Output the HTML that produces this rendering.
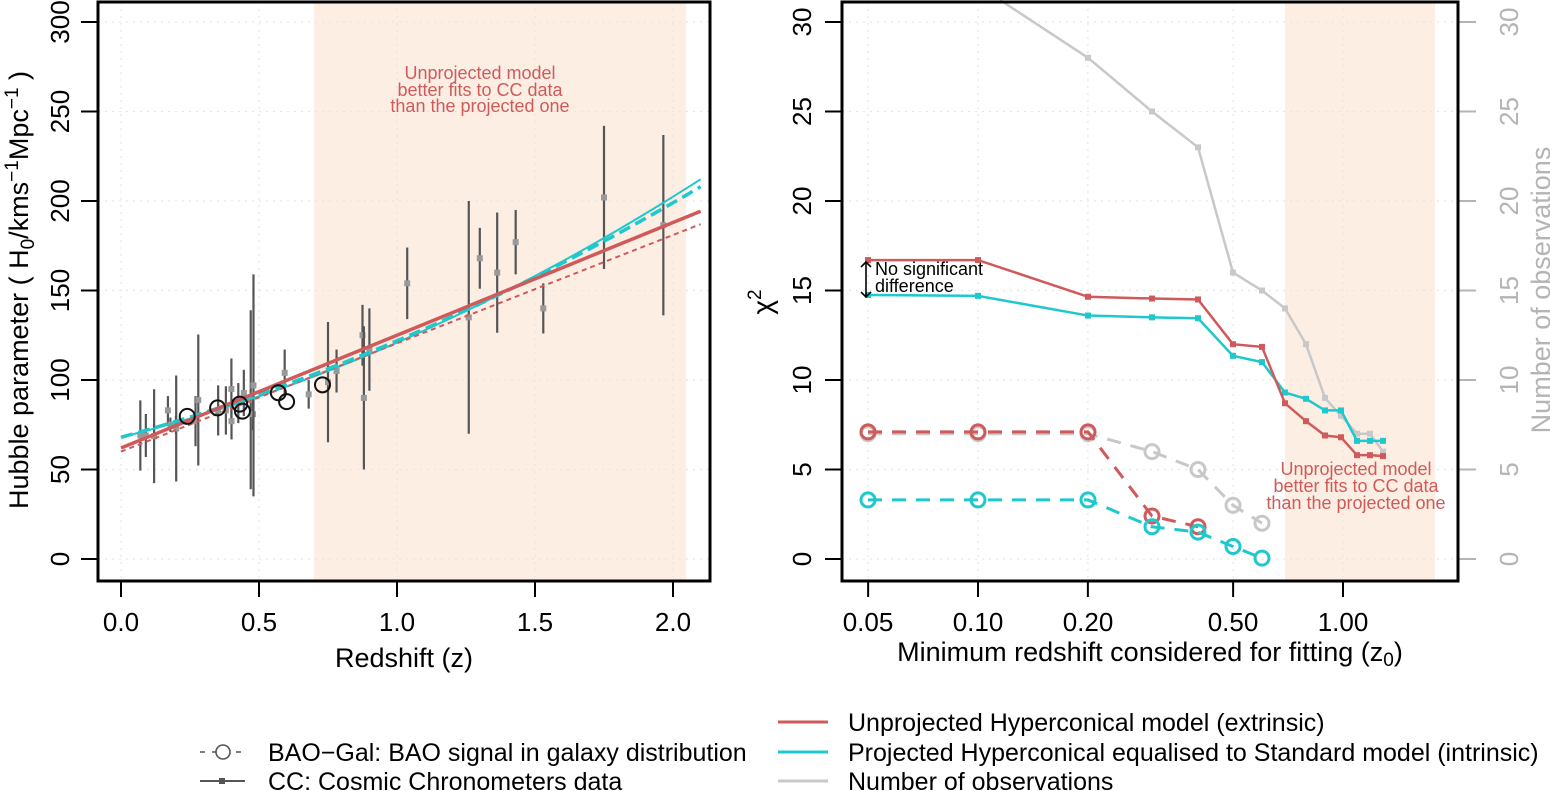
<!DOCTYPE html>
<html><head><meta charset="utf-8"><style>
html,body{margin:0;padding:0;background:#fff;}
svg{display:block;font-family:"Liberation Sans",sans-serif;}
</style></head><body>
<svg id="s" width="1550" height="791" viewBox="0 0 1550 791" xmlns="http://www.w3.org/2000/svg">
<rect x="314" y="2" width="372" height="579" fill="#fdeee4"/>
<rect x="1285" y="2" width="150" height="579" fill="#fdeee4"/>
<g id="grid" stroke="#e6e6e6" stroke-width="1.2" stroke-dasharray="2,5"></g>
<g id="plot"></g>
<rect x="98" y="2" width="612" height="579" fill="none" stroke="#000" stroke-width="3"/>
<g font-size="26" fill="#000" text-anchor="middle">
<text x="121" y="631">0.0</text><text x="259" y="631">0.5</text><text x="397" y="631">1.0</text><text x="535" y="631">1.5</text><text x="673" y="631">2.0</text>
<text x="404" y="667" font-size="27">Redshift (z)</text>
</g>
<g font-size="26" text-anchor="middle">
<text transform="translate(69,559) rotate(-90)">0</text>
<text transform="translate(69,469.5) rotate(-90)">50</text>
<text transform="translate(69,380) rotate(-90)">100</text>
<text transform="translate(69,290.5) rotate(-90)">150</text>
<text transform="translate(69,201) rotate(-90)">200</text>
<text transform="translate(69,111.5) rotate(-90)">250</text>
<text transform="translate(69,22) rotate(-90)">300</text>
<text transform="translate(28,290) rotate(-90)" font-size="27">Hubble parameter ( H<tspan font-size="19" dy="6">0</tspan><tspan dy="-6">/kms</tspan><tspan font-size="19" dy="-10">−1</tspan><tspan dy="10">Mpc</tspan><tspan font-size="19" dy="-10">−1</tspan><tspan dy="10"> )</tspan></text>
</g>
<g font-size="18" fill="#d05a5a" text-anchor="middle">
<text x="480" y="79">Unprojected model</text><text x="480" y="96">better fits to CC data</text><text x="480" y="112">than the projected one</text>
</g>
<rect x="842" y="2" width="616" height="579" fill="none" stroke="#000" stroke-width="3"/>
<g font-size="26" text-anchor="middle">
<text x="868" y="631">0.05</text><text x="978" y="631">0.10</text><text x="1088" y="631">0.20</text><text x="1233" y="631">0.50</text><text x="1343" y="631">1.00</text>
<text x="1150" y="661" font-size="27">Minimum redshift considered for fitting (z<tspan font-size="19" dy="5">0</tspan><tspan dy="-5">)</tspan></text>
<text transform="translate(811,559) rotate(-90)">0</text>
<text transform="translate(811,469.5) rotate(-90)">5</text>
<text transform="translate(811,380) rotate(-90)">10</text>
<text transform="translate(811,290.5) rotate(-90)">15</text>
<text transform="translate(811,201) rotate(-90)">20</text>
<text transform="translate(811,111.5) rotate(-90)">25</text>
<text transform="translate(811,22) rotate(-90)">30</text>
<text transform="translate(772,302) rotate(-90)" font-size="28">χ<tspan font-size="19" dy="-11">2</tspan></text>
</g>
<g font-size="26" text-anchor="middle" fill="#b4b4b4">
<text transform="translate(1518,559) rotate(-90)">0</text>
<text transform="translate(1518,469.5) rotate(-90)">5</text>
<text transform="translate(1518,380) rotate(-90)">10</text>
<text transform="translate(1518,290.5) rotate(-90)">15</text>
<text transform="translate(1518,201) rotate(-90)">20</text>
<text transform="translate(1518,111.5) rotate(-90)">25</text>
<text transform="translate(1518,22) rotate(-90)">30</text>
<text transform="translate(1550,290) rotate(-90)" font-size="27">Number of observations</text>
</g>
<g font-size="18" fill="#d05a5a" text-anchor="middle">
<text x="1356" y="475">Unprojected model</text><text x="1356" y="492">better fits to CC data</text><text x="1356" y="509">than the projected one</text>
</g>
<g font-size="18" fill="#000"><text x="875" y="275">No significant</text><text x="875" y="292">difference</text></g>
<path d="M866 262 L866 297 M861 267 L866 262 L871 267 M861 292 L866 297 L871 292" stroke="#000" stroke-width="1.6" fill="none"/>
<g font-size="25" fill="#000">
<text x="268" y="761">BAO−Gal: BAO signal in galaxy distribution</text>
<text x="268" y="790">CC: Cosmic Chronometers data</text>
<text x="848" y="731">Unprojected Hyperconical model (extrinsic)</text>
<text x="848" y="761">Projected Hyperconical equalised to Standard model (intrinsic)</text>
<text x="848" y="790">Number of observations</text>
</g>
<g stroke-width="3">
<line x1="200" y1="752" x2="245" y2="752" stroke="#555" stroke-width="1.6" stroke-dasharray="5,7"/>
<circle cx="223" cy="752" r="7" fill="#fff" stroke="#555" stroke-width="1.6"/>
<line x1="200" y1="781" x2="245" y2="781" stroke="#555" stroke-width="2"/>
<rect x="219" y="778" width="6" height="6" fill="#555"/>
<line x1="778" y1="722" x2="828" y2="722" stroke="#d05a5a"/>
<line x1="778" y1="752" x2="828" y2="752" stroke="#1ec8cc"/>
<line x1="778" y1="781" x2="828" y2="781" stroke="#c8c8c8"/>
</g>
</svg>
<script>
var NS="http://www.w3.org/2000/svg";
function el(p,t,a){var e=document.createElementNS(NS,t);for(var k in a)e.setAttribute(k,a[k]);document.getElementById(p).appendChild(e);return e;}
function Y(v){return 559-v*1.79;}
function LX(z){return 121+z*276;}
function RX(z){return 978+365*Math.log10(z/0.1);}
function RY(v){return 559-v*17.9;}
[0,.5,1,1.5,2].forEach(function(z){el("grid","line",{x1:LX(z),x2:LX(z),y1:2,y2:581});});
[0,50,100,150,200,250,300].forEach(function(v){el("grid","line",{x1:98,x2:710,y1:Y(v),y2:Y(v)});
 el("plot","line",{x1:81,x2:98,y1:Y(v),y2:Y(v),stroke:"#000","stroke-width":2});});
[0,.5,1,1.5,2].forEach(function(z){el("plot","line",{x1:LX(z),x2:LX(z),y1:581,y2:597,stroke:"#000","stroke-width":2});});
[.05,.1,.2,.5,1].forEach(function(z){el("grid","line",{x1:RX(z),x2:RX(z),y1:2,y2:581});
 el("plot","line",{x1:RX(z),x2:RX(z),y1:581,y2:597,stroke:"#000","stroke-width":2});});
[0,5,10,15,20,25,30].forEach(function(v){el("grid","line",{x1:842,x2:1458,y1:RY(v),y2:RY(v)});
 el("plot","line",{x1:825,x2:842,y1:RY(v),y2:RY(v),stroke:"#000","stroke-width":2});
 el("plot","line",{x1:1458,x2:1476,y1:RY(v),y2:RY(v),stroke:"#b4b4b4","stroke-width":2});});
el("plot","line",{x1:1458,x2:1458,y1:RY(0),y2:RY(30),stroke:"#b4b4b4","stroke-width":2});
var cc=[[.07,69,19.6],[.09,69,12],[.12,68.6,26.2],[.17,83,8],[.179,75,4],[.199,75,5],[.2,72.9,29.6],[.27,77,14],[.28,88.8,36.6],[.352,83,14],[.38,83,13.5],[.4,95,17],[.4004,77,10.2],[.425,87.1,11.2],[.445,92.8,12.9],[.47,89,50],[.4783,80.9,9],[.48,97,62],[.593,104,13],[.68,92,8],[.75,98.8,33.6],[.781,105,12],[.875,125,17],[.88,90,40],[.9,117,23],[1.037,154,20],[1.26,135,65],[1.3,168,17],[1.363,160,33.6],[1.43,177,18],[1.53,140,14],[1.75,202,40],[1.965,186.5,50.4]];
cc.forEach(function(d){var x=LX(d[0]);el("plot","line",{x1:x,x2:x,y1:Y(d[1]-d[2]),y2:Y(d[1]+d[2]),stroke:"#555","stroke-width":2.2});
 el("plot","rect",{x:x-3,y:Y(d[1])-3,width:6,height:6,fill:"#999"});});
function line(f,st,w,da){var p=[];for(var i=0;i<=42;i++){var z=i*0.05;p.push(LX(z)+","+Y(f(z)));}var a={points:p.join(" "),fill:"none",stroke:st,"stroke-width":w};if(da)a["stroke-dasharray"]=da;el("plot","polyline",a);}
line(function(z){return 68+38.6*z+14.3*z*z;},"#1ec8cc",2);
line(function(z){return 60+60.5*z;},"#d05a5a",2,"5,4");
line(function(z){return 68+42.3*z+11.6*z*z;},"#1ec8cc",3.5,"12,6");
line(function(z){return 62+63*z;},"#d05a5a",3.5);
[[.24,79.7],[.35,84.4],[.43,86.5],[.44,82.6],[.57,92.9],[.6,87.9],[.73,97.3]].forEach(function(d){el("plot","circle",{cx:LX(d[0]),cy:Y(d[1]),r:7.5,fill:"none",stroke:"#111","stroke-width":2});});
var xs=[868,978,1088,1152,1198,1233,1262,1285,1306,1325,1341,1357,1370,1383];
var grey=[[1000,-2],[1088,28],[1152,25],[1198,23],[1233,16],[1262,15],[1285,14],[1306,12],[1325,9],[1341,8],[1357,7],[1370,7],[1383,6]];
function series(pts,col){el("plot","polyline",{points:pts.map(function(p){return p[0]+","+(p[1]<0?0:RY(p[1]));}).join(" "),fill:"none",stroke:col,"stroke-width":2.5});
 pts.forEach(function(p){if(p[1]>=0)el("plot","rect",{x:p[0]-3,y:RY(p[1])-3,width:6,height:6,fill:col});});}
series(grey,"#c8c8c8");
var red=[16.7,16.7,14.65,14.55,14.5,12,11.85,8.7,7.7,6.9,6.8,5.8,5.8,5.75];
var cy=[14.75,14.7,13.6,13.5,13.45,11.35,11.0,9.3,8.95,8.3,8.3,6.6,6.6,6.6];
series(xs.map(function(x,i){return [x,cy[i]];}),"#1ec8cc");
series(xs.map(function(x,i){return [x,red[i]];}),"#d05a5a");
function dseries(vals,col){var pts=vals.map(function(v,i){return [xs[i],v];});
 el("plot","polyline",{points:pts.map(function(p){return p[0]+","+RY(p[1]);}).join(" "),fill:"none",stroke:col,"stroke-width":3,"stroke-dasharray":"14,10"});
 pts.forEach(function(p){el("plot","circle",{cx:p[0],cy:RY(p[1]),r:7,fill:"none",stroke:col,"stroke-width":3});});}
dseries([7,7,7,6,5,3,2],"#c8c8c8");
dseries([7.1,7.1,7.1,2.4,1.8],"#d05a5a");
dseries([3.3,3.3,3.3,1.8,1.5,.7,.05],"#1ec8cc");
</script>
</body></html>
